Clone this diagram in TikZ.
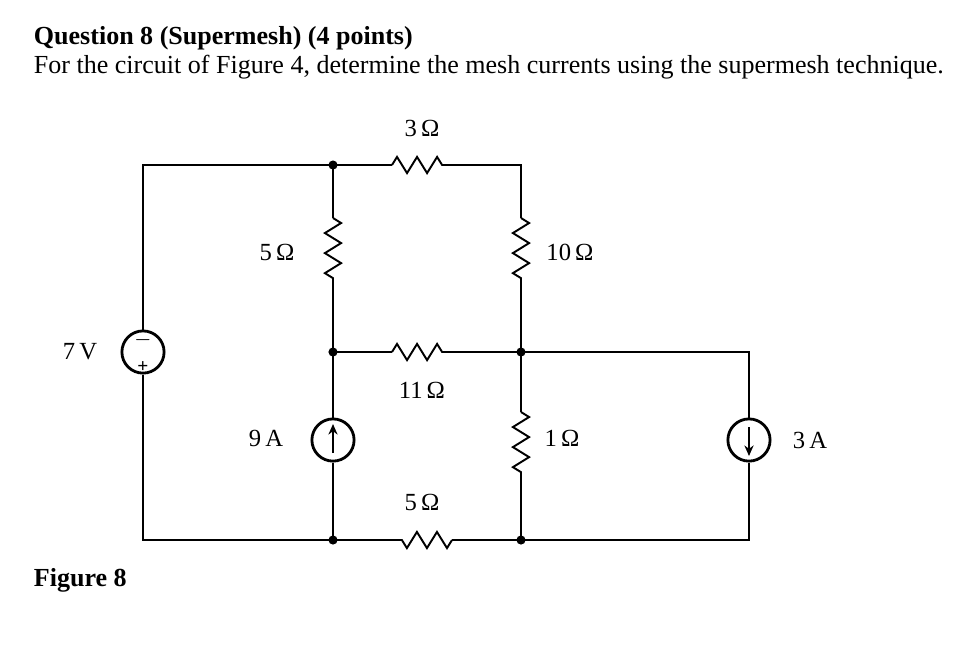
\documentclass[tikz,border=0pt]{standalone}
\usepackage{fontspec}
\setmainfont{Liberation Serif}
\usetikzlibrary{decorations.pathmorphing,arrows.meta}
\begin{document}
\begin{tikzpicture}[x=0.01cm,y=-0.01cm,line width=0.55pt,
  res/.style={decorate,decoration={zigzag,segment length=5.7pt,amplitude=2.3pt}},
  dot/.style={circle,fill,inner sep=0pt,minimum size=2.6pt},
  src/.style={circle,draw,line width=0.8pt,minimum size=12pt,inner sep=0pt},
  lab/.style={font=\fontsize{7}{8}\selectfont,inner sep=1pt},
  txt/.style={anchor=west,inner sep=0pt,font=\fontsize{7.4}{8}\selectfont}]
\useasboundingbox (0,0) rectangle (966,650);
\node[txt,font=\bfseries\fontsize{7.4}{8}\selectfont] (t1) at (33,38) {Question 8 (Supermesh) (4 points)};
\node[txt] (t2) at (33,67) {For the circuit of Figure 4, determine the mesh currents using the supermesh technique.};
\node[txt,font=\bfseries\fontsize{7.4}{8}\selectfont] (t3) at (33,580) {Figure 8};
% coordinates
\coordinate (TL) at (143,165); \coordinate (TA) at (333,165); \coordinate (TB) at (521,165);
\coordinate (MA) at (333,352); \coordinate (MB) at (521,352); \coordinate (MR) at (749,352);
\coordinate (BL) at (143,540); \coordinate (BA) at (333,540); \coordinate (BB) at (521,540); \coordinate (BR) at (749,540);
\node[src] (V) at (143,352) {};
\node[src] (I9) at (333,440) {};
\node[src] (I3) at (749,440) {};
% wires
\draw (V.north) -- (TL) -- (TA) -- (392,165);
\draw[res] (392,165) -- (452,165);
\draw (452,165) -- (TB) -- (521,218);
\draw[res] (521,218) -- (521,283);
\draw (521,283) -- (MB);
\draw (TA) -- (333,218);
\draw[res] (333,218) -- (333,283);
\draw (333,283) -- (MA);
\draw (MA) -- (392,352);
\draw[res] (392,352) -- (452,352);
\draw (452,352) -- (MB) -- (MR) -- (I3.north);
\draw (I3.south) -- (BR) -- (BB) -- (452,540);
\draw[res] (452,540) -- (392,540);
\draw (392,540) -- (BA) -- (BL) -- (V.south);
\draw (MA) -- (I9.north); \draw (I9.south) -- (BA);
\draw (MB) -- (521,412);
\draw[res] (521,412) -- (521,477);
\draw (521,477) -- (BB);
\foreach \p in {TA,MA,MB,BA,BB} \node[dot] at (\p) {};
% source symbols
\draw[-{Stealth[length=3pt,width=2.6pt]}] (333,453) -- (333,424);
\draw[-{Stealth[length=3pt,width=2.6pt]}] (749,427) -- (749,456);
\node[lab,font=\fontsize{5}{6}\selectfont] at (143,340) {$-$};
\node[lab,font=\bfseries\fontsize{5.5}{6}\selectfont] at (143,367) {+};
% labels
\node[lab] at (422,128) {3\,Ω};
\node[lab] at (277,252) {5\,Ω};
\node[lab] at (570,252) {10\,Ω};
\node[lab] at (422,390) {11\,Ω};
\node[lab] at (80,352) {7\,V};
\node[lab] at (266,438) {9\,A};
\node[lab] at (562,438) {1\,Ω};
\node[lab] at (810,440) {3\,A};
\node[lab] at (422,502) {5\,Ω};
\end{tikzpicture}
\end{document}
